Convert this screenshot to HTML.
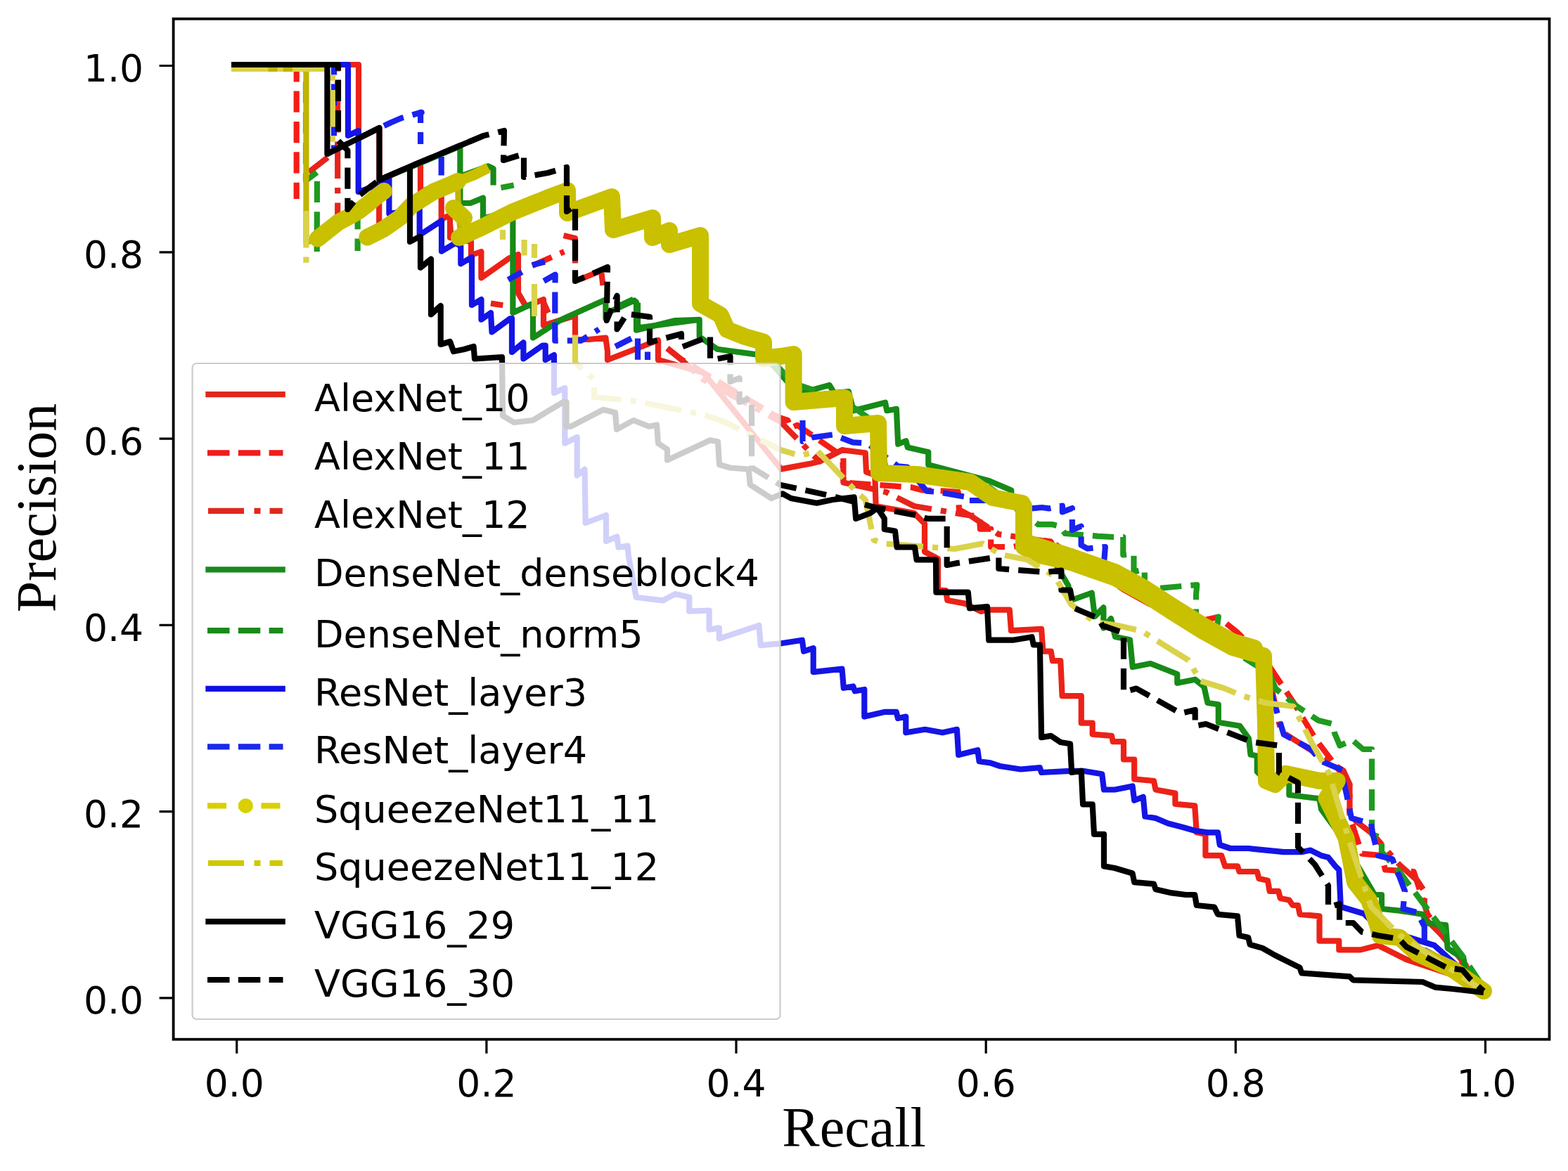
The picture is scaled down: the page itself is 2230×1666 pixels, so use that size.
<!DOCTYPE html><html><head><meta charset="utf-8"><style>html,body{margin:0;padding:0;background:#fff;overflow:hidden}svg{display:block}</style></head><body><svg xmlns="http://www.w3.org/2000/svg" width="2230" height="1666" viewBox="0 0 2230 1666"><rect width="2230" height="1666" fill="#fff"/><defs><clipPath id="ax"><rect x="246.6" y="26.8" width="1956.9" height="1451.9"/></clipPath></defs><g clip-path="url(#ax)" fill="none" stroke-linejoin="round"><path d="M329.0 92.0 L510.0 92.0 L510.0 197.0 L539.5 182.0 L539.5 256.0 L598.0 231.0 L598.0 272.5 L627.7 262.0 L627.7 312.0 L640.0 306.0 L640.0 338.0 L670.0 344.0 L670.0 363.0 L684.4 358.0 L684.4 395.3 L724.4 367.2 L737.0 362.0 L737.0 417.0 L748.0 436.0" stroke="#ec2218" stroke-width="8.2" stroke-linecap="butt"/><path d="M748.0 436.0 L773.0 426.0 L773.0 463.0 L818.0 449.0 L818.0 483.0 L837.0 483.0 L861.4 480.6 L864.0 499.7 L864.0 512.0 L936.0 484.0 L936.0 512.0 L1000.0 530.0 L1110.9 667.4 L1154.4 659.2 L1165.3 656.5 L1198.0 640.2 L1230.7 644.3 L1232.0 671.5 L1244.3 675.6 L1245.6 720.0 L1300.0 730.0 L1315.0 745.0 L1315.0 785.0 L1334.0 795.0 L1334.0 839.5 L1345.0 840.0 L1347.3 854.0 L1372.2 858.6 L1394.9 869.9 L1404.0 867.6 L1435.8 867.6 L1438.0 897.1 L1481.1 894.9 L1483.4 926.6 L1494.7 926.6 L1497.0 940.2 L1508.3 940.2 L1510.6 990.1 L1537.8 990.1 L1537.8 1028.7 L1553.7 1028.7 L1553.7 1044.6 L1581.0 1046.9 L1582.8 1055.2 L1598.0 1055.2 L1598.0 1080.5 L1613.2 1080.5 L1613.2 1108.4 L1641.0 1111.0 L1643.5 1123.5 L1671.4 1128.6 L1671.4 1143.8 L1699.2 1146.3 L1701.8 1184.3 L1714.4 1186.8 L1714.4 1217.2 L1737.2 1217.2 L1742.3 1232.4 L1760.0 1232.4 L1762.5 1240.0 L1787.8 1240.0 L1790.4 1250.1 L1803.0 1252.7 L1805.6 1267.8 L1818.2 1267.8 L1820.8 1278.0 L1833.4 1280.5 L1838.5 1288.0 L1846.0 1288.0 L1848.6 1300.8 L1876.5 1303.3 L1876.5 1338.7 L1904.3 1338.7 L1904.3 1351.4 L1934.7 1351.4 L1960.0 1345.0 L2000.0 1365.0 L2060.0 1385.0 L2110.0 1408.0" stroke="#ec2218" stroke-width="8.2" stroke-linecap="butt"/><path d="M329.0 92.0 L421.7 92.0 L421.7 283.0" stroke="#f51c16" stroke-width="8.2" stroke-linecap="butt" stroke-dasharray="30.3 13.1"/><path d="M757.0 378.0 L802.4 358.0" stroke="#f51c16" stroke-width="8.2" stroke-linecap="butt" stroke-dasharray="30.3 13.1"/><path d="M949.0 495.5 L968.0 510.7 L1000.0 530.0 L1100.0 590.0 L1110.9 595.0 L1120.4 598.0 L1124.5 609.0 L1134.0 604.8 L1199.4 650.0 L1199.4 686.5 L1296.0 693.3 L1312.3 697.4 L1343.6 698.7 L1362.7 700.0 L1364.0 725.0 L1380.0 733.5 L1392.7 733.5 L1394.0 752.6 L1409.2 752.6 L1409.2 778.0 L1441.0 778.0 L1481.7 769.0 L1494.4 770.4 L1510.0 800.0 L1560.0 818.0 L1600.0 838.0 L1631.0 850.0 L1687.0 888.0 L1732.8 877.8 L1760.0 900.0 L1800.0 940.0 L1840.0 1000.0 L1870.0 1050.0 L1919.5 1116.0 L1919.5 1161.5 L1937.0 1214.7 L1965.0 1217.2 L1970.0 1237.5 L2010.6 1240.0 L2030.0 1300.0 L2050.0 1330.0 L2110.0 1405.0" stroke="#f51c16" stroke-width="8.2" stroke-linecap="butt" stroke-dasharray="30.3 13.1"/><path d="M329.0 92.0 L480.2 92.0 L480.2 306.0" stroke="#e8231a" stroke-width="8.2" stroke-linecap="butt" stroke-dasharray="52.5 13.1 8.2 13.1"/><path d="M539.2 273.0 L539.2 318.0" stroke="#e8231a" stroke-width="8.2" stroke-linecap="butt" stroke-dasharray="52.5 13.1 8.2 13.1"/><path d="M640.0 318.0 L641.7 338.5" stroke="#e8231a" stroke-width="8.2" stroke-linecap="butt" stroke-dasharray="52.5 13.1 8.2 13.1"/><path d="M698.0 431.6 L715.3 434.3" stroke="#e8231a" stroke-width="8.2" stroke-linecap="butt" stroke-dasharray="52.5 13.1 8.2 13.1"/><path d="M737.0 417.0 L748.0 436.0" stroke="#e8231a" stroke-width="8.2" stroke-linecap="butt" stroke-dasharray="52.5 13.1 8.2 13.1"/><path d="M771.6 427.0 L779.7 445.0" stroke="#e8231a" stroke-width="8.2" stroke-linecap="butt" stroke-dasharray="52.5 13.1 8.2 13.1"/><path d="M801.5 335.0 L818.0 339.0 L818.0 400.3 L855.0 385.0 L858.0 410.0" stroke="#e8231a" stroke-width="8.2" stroke-linecap="butt" stroke-dasharray="52.5 13.1 8.2 13.1"/><path d="M936.0 484.0 L936.0 512.0" stroke="#e8231a" stroke-width="8.2" stroke-linecap="butt" stroke-dasharray="52.5 13.1 8.2 13.1"/><path d="M439.0 245.0 L466.0 224.0" stroke="#e8231a" stroke-width="8.2" stroke-linecap="butt" stroke-dasharray="52.5 13.1 8.2 13.1"/><path d="M949.0 495.5 L968.0 510.7 L1000.0 540.0 L1110.0 600.0 L1165.3 656.5 L1198.0 640.2 L1199.4 686.5 L1260.0 700.0 L1300.0 720.0 L1380.0 733.5 L1420.0 760.0 L1481.7 769.0 L1494.4 770.4 L1540.0 800.0 L1600.0 840.0 L1687.0 888.0 L1760.0 905.0 L1800.0 940.0 L1821.7 1040.4 L1910.6 1096.4 L1919.5 1116.0 L1919.5 1161.5 L1952.4 1186.8 L1990.0 1230.0 L2015.7 1252.7 L2025.8 1268.0 L2025.8 1305.8 L2056.2 1336.2 L2068.9 1356.5 L2110.0 1405.0" stroke="#e8231a" stroke-width="8.2" stroke-linecap="butt" stroke-dasharray="52.5 13.1 8.2 13.1"/><path d="M539.5 256.0 L600.0 231.0 L654.4 208.0 L654.4 250.8 L694.4 236.3 L701.6 240.0 L701.6 263.5" stroke="#178a17" stroke-width="8.2" stroke-linecap="butt"/><path d="M729.4 305.0 L729.4 445.0 L755.0 433.0 L758.0 436.0 L758.0 480.6 L796.0 456.0 L807.0 450.7 L861.4 426.2 L861.4 453.0 L864.0 445.0 L902.0 427.5 L905.0 430.0 L905.0 469.7 L960.0 456.0 L994.7 454.8 L994.7 479.0 L1020.0 496.7 L1076.0 504.4 L1100.0 520.0 L1130.0 555.0 L1138.8 559.2 L1179.6 547.9 L1186.4 559.2 L1206.9 557.0 L1213.7 584.2 L1259.0 572.8 L1261.3 584.2 L1274.9 581.9 L1277.2 631.8 L1288.5 627.3 L1290.8 636.4 L1320.3 643.2 L1320.3 661.3 L1406.5 684.0 L1438.3 697.6 L1438.3 711.2 L1456.0 740.0 L1456.0 780.0 L1500.0 800.0 L1519.3 833.0 L1523.5 854.0 L1552.7 843.5 L1557.0 877.0 L1569.4 864.4 L1569.4 893.6 L1580.0 880.0 L1586.0 906.0 L1607.0 910.3 L1610.8 949.0 L1636.2 944.0 L1674.3 959.0 L1674.3 971.8 L1699.7 966.7 L1712.4 977.0 L1717.5 1000.0 L1732.8 1002.3 L1732.8 1027.7 L1763.3 1032.8 L1776.0 1050.6 L1778.5 1073.5 L1787.8 1075.4 L1787.8 1098.0 L1800.5 1111.0 L1833.4 1113.4 L1833.4 1131.0 L1876.5 1136.2 L1879.0 1151.4 L1900.0 1180.0 L1930.0 1230.0 L1955.0 1273.0 L1965.0 1273.0 L1965.0 1293.0 L1990.4 1295.7 L2023.3 1300.8 L2028.4 1313.4 L2056.2 1316.0 L2058.7 1349.0 L2081.5 1364.0 L2086.6 1389.4 L2110.0 1405.0" stroke="#178a17" stroke-width="8.2" stroke-linecap="butt"/><path d="M654.4 250.0 L654.4 289.0 L669.0 289.0 L687.0 281.6 L687.0 310.7 L727.0 300.0" stroke="#178a17" stroke-width="8.2" stroke-linecap="butt"/><path d="M876.5 437.0 L900.7 425.6" stroke="#178a17" stroke-width="8.2" stroke-linecap="butt"/><path d="M907.0 430.7 L907.0 461.0 L908.3 466.2 L994.7 454.8" stroke="#178a17" stroke-width="8.2" stroke-linecap="butt"/><path d="M329.0 92.0 L435.0 92.0 L435.0 257.0 L451.0 245.0 L450.7 358.0" stroke="#1f9a1f" stroke-width="8.2" stroke-linecap="butt" stroke-dasharray="30.3 13.1"/><path d="M508.6 296.0 L508.6 357.0" stroke="#1f9a1f" stroke-width="8.2" stroke-linecap="butt" stroke-dasharray="30.3 13.1"/><path d="M523.8 340.0 L531.4 335.0" stroke="#1f9a1f" stroke-width="8.2" stroke-linecap="butt" stroke-dasharray="30.3 13.1"/><path d="M712.5 267.0 L730.7 263.5" stroke="#1f9a1f" stroke-width="8.2" stroke-linecap="butt" stroke-dasharray="30.3 13.1"/><path d="M1100.0 515.0 L1128.0 545.0 L1200.0 570.0 L1250.0 605.0 L1260.0 670.0 L1400.0 688.0 L1456.0 730.0 L1476.6 746.2 L1497.0 746.2 L1507.0 748.8 L1514.7 759.0 L1561.7 762.8 L1583.3 764.0 L1597.3 764.0 L1597.3 789.4 L1612.5 788.0 L1612.5 813.6 L1627.8 809.8 L1627.8 835.2 L1639.2 837.7 L1702.3 832.0 L1701.0 847.0 L1701.0 875.0 L1707.4 885.5 L1732.8 877.8 L1730.0 898.0 L1730.0 916.0 L1760.0 930.0 L1806.0 959.0 L1814.0 979.5 L1829.0 992.0 L1844.5 1005.0 L1875.0 1025.0 L1895.4 1030.0 L1898.0 1043.0 L1905.5 1060.8 L1923.3 1053.0 L1938.6 1066.0 L1951.0 1066.0 L1951.0 1186.8 L1965.0 1192.0 L1965.0 1212.0 L1990.0 1240.0 L2020.0 1280.0 L2050.0 1320.0 L2080.0 1360.0 L2110.0 1405.0" stroke="#1f9a1f" stroke-width="8.2" stroke-linecap="butt" stroke-dasharray="30.3 13.1"/><path d="M329.0 92.0 L495.0 92.0 L495.0 193.0 L509.7 186.0 L509.7 273.0 L540.0 262.0 L553.4 253.0 L553.4 304.0 L580.0 300.0 L596.7 296.0 L596.7 334.4 L628.0 314.0 L628.0 357.6 L648.5 345.3 L655.3 350.8 L655.3 375.3 L671.0 366.0 L671.0 434.0 L684.5 426.0 L684.5 454.7 L698.0 445.0 L699.5 472.4 L725.3 453.4 L728.0 453.0 L728.0 501.0 L744.4 487.4 L744.4 510.5 L771.6 491.5 L775.7 491.5 L775.7 512.0 L788.0 505.0 L788.0 559.0 L803.3 552.0 L803.3 630.7 L820.7 622.0 L820.7 676.4 L831.6 667.7 L832.7 744.0 L862.0 733.0 L862.0 770.0 L877.4 763.5 L879.5 778.7 L892.6 776.6 L894.0 791.8 L904.8 849.7 L942.6 854.4 L960.3 845.0 L980.3 849.7 L980.3 869.7 L1008.6 868.5 L1008.6 895.7 L1022.8 893.3 L1022.8 908.6 L1079.4 889.8 L1081.8 918.1 L1111.3 915.3 L1140.8 910.7 L1143.1 926.6 L1156.7 922.1 L1156.7 956.1 L1197.5 951.6 L1199.8 978.8 L1213.4 976.5 L1215.7 983.3 L1229.3 981.0 L1229.3 1019.6 L1258.8 1012.8 L1274.7 1012.8 L1277.0 1021.9 L1288.3 1019.6 L1288.3 1042.3 L1315.5 1037.8 L1340.5 1042.3 L1360.9 1037.8 L1363.2 1074.1 L1390.4 1067.3 L1392.6 1083.2 L1408.5 1085.4 L1422.2 1090.0 L1451.6 1094.5 L1478.9 1092.2 L1481.1 1099.0 L1522.0 1096.8 L1540.1 1096.8 L1567.3 1101.3 L1570.0 1123.5 L1585.3 1123.5 L1610.6 1118.5 L1613.2 1138.7 L1625.8 1133.7 L1628.4 1161.5 L1643.5 1164.0 L1661.3 1171.6 L1681.5 1176.7 L1699.2 1181.8 L1717.0 1184.3 L1732.0 1184.3 L1734.7 1202.0 L1749.9 1207.0 L1775.2 1207.0 L1800.5 1209.6 L1825.8 1212.2 L1851.1 1212.2 L1863.8 1209.6 L1879.0 1217.2 L1889.0 1219.7 L1899.2 1232.4 L1904.3 1237.5 L1906.8 1290.0 L1940.0 1300.0 L1960.0 1320.0 L2040.0 1345.0 L2110.0 1408.0" stroke="#1414e6" stroke-width="8.2" stroke-linecap="butt"/><path d="M329.0 92.0 L475.0 92.0 L475.0 214.0 L539.5 182.0 L556.7 174.0 L570.7 168.0 L599.6 159.8 L598.1 159.8 L598.1 205.0" stroke="#1a22f0" stroke-width="8.2" stroke-linecap="butt" stroke-dasharray="30.3 13.1"/><path d="M627.7 223.0 L627.7 249.5" stroke="#1a22f0" stroke-width="8.2" stroke-linecap="butt" stroke-dasharray="30.3 13.1"/><path d="M722.6 398.0 L742.5 387.0" stroke="#1a22f0" stroke-width="8.2" stroke-linecap="butt" stroke-dasharray="30.3 13.1"/><path d="M757.0 377.0 L775.0 372.6" stroke="#1a22f0" stroke-width="8.2" stroke-linecap="butt" stroke-dasharray="30.3 13.1"/><path d="M773.4 399.8 L789.7 390.7 L789.3 415.0 L789.3 484.7 L826.0 484.7 L852.0 468.4" stroke="#1a22f0" stroke-width="8.2" stroke-linecap="butt" stroke-dasharray="30.3 13.1"/><path d="M875.2 493.0 L898.0 481.5" stroke="#1a22f0" stroke-width="8.2" stroke-linecap="butt" stroke-dasharray="30.3 13.1"/><path d="M907.0 481.5 L907.0 512.0" stroke="#1a22f0" stroke-width="8.2" stroke-linecap="butt" stroke-dasharray="30.3 13.1"/><path d="M921.0 500.5 L921.0 512.0" stroke="#1a22f0" stroke-width="8.2" stroke-linecap="butt" stroke-dasharray="30.3 13.1"/><path d="M1141.5 598.0 L1141.5 628.0 L1154.4 622.5 L1184.4 618.4 L1213.0 629.3 L1233.4 630.7 L1277.0 663.3 L1290.6 664.7 L1317.8 698.7 L1334.0 700.0 L1374.0 707.0 L1374.0 712.0 L1420.0 712.0 L1466.4 723.4 L1481.7 722.0 L1491.8 723.4 L1510.9 719.6 L1510.9 728.4 L1524.9 723.0 L1524.9 753.9 L1537.6 748.8 L1537.6 775.5 L1546.5 780.5 L1571.9 778.0 L1569.3 810.0 L1585.8 818.7 L1599.8 817.4 L1631.0 850.0 L1687.0 888.0 L1730.0 905.0 L1780.0 930.0 L1800.0 960.0 L1825.8 1045.0 L1863.8 1065.3 L1879.0 1083.0 L1909.4 1095.7 L1909.4 1105.8 L1915.0 1130.0 L1922.0 1164.0 L1950.0 1171.6 L1952.4 1186.8 L1960.0 1217.2 L1980.3 1222.3 L1988.0 1242.5 L1990.4 1247.6 L1998.0 1267.8 L1995.4 1293.0 L2015.7 1298.2 L2025.8 1318.5 L2025.8 1351.4 L2060.0 1370.0 L2110.0 1405.0" stroke="#1a22f0" stroke-width="8.2" stroke-linecap="butt" stroke-dasharray="30.3 13.1"/><path d="M329.0 98.0 L435.4 98.0 L435.4 345.0 L451.8 339.5" stroke="#c0b400" stroke-width="8.2" stroke-linecap="butt"/><path d="M651.0 258.0 L652.0 300.0 L655.0 332.0" stroke="#c0b400" stroke-width="8.2" stroke-linecap="butt"/><path d="M651.0 258.0 L675.0 248.5 L694.6 238.6" stroke="#c9c000" stroke-width="15" stroke-linecap="butt"/><path d="M451.8 339.5 L481.0 316.4 L498.8 307.0 L510.5 300.0 L522.3 291.0 L534.0 281.0 L546.0 272.0" stroke="#c9c000" stroke-width="24" stroke-linecap="round"/><path d="M522.3 337.5 L545.8 325.8 L569.3 309.3 L584.6 292.9 L616.3 272.9 L639.8 263.0 L651.0 258.0" stroke="#c9c000" stroke-width="24" stroke-linecap="round"/><path d="M645.0 296.0 L660.0 310.0" stroke="#c9c000" stroke-width="24" stroke-linecap="round"/><path d="M653.0 338.0 L684.0 324.0 L728.0 302.0 L782.8 280.0 L799.0 274.0 L807.0 271.0 L807.0 303.0 L870.0 280.0 L872.0 327.0 L928.0 310.0 L928.0 338.0 L952.0 328.0 L952.0 348.0 L996.0 335.0 L996.0 432.0 L1025.0 448.5 L1034.0 468.8 L1059.5 479.0 L1086.0 486.6 L1086.0 510.0 L1110.0 507.0 L1128.6 504.0 L1128.6 572.0 L1201.0 566.0 L1201.0 606.0 L1249.0 602.0 L1250.0 673.0 L1304.0 675.0 L1380.0 686.0 L1412.0 708.0 L1453.7 716.0 L1456.0 720.0 L1456.0 778.0 L1480.0 790.0 L1523.5 800.0 L1586.0 822.0 L1628.0 845.0 L1669.6 872.0 L1711.4 898.0 L1753.0 921.0 L1784.5 930.0 L1797.0 933.0 L1800.0 1030.0 L1801.0 1111.0 L1813.2 1116.0 L1828.4 1100.8 L1876.5 1111.0 L1901.8 1111.0 L1886.6 1136.0 L1914.4 1192.0 L1919.5 1217.0 L1927.0 1255.0 L1947.0 1280.5 L1960.0 1318.5 L1962.5 1331.0 L1990.4 1333.7 L2015.7 1356.5 L2066.3 1379.4 L2110.0 1410.0" stroke="#c9c000" stroke-width="24" stroke-linecap="round"/><path d="M1460.0 772.0 L1523.5 792.0 L1586.0 814.0 L1628.0 837.0 L1669.6 864.0 L1711.0 890.0 L1753.0 913.0 L1784.0 922.0" stroke="#c9c000" stroke-width="24" stroke-linecap="round"/><path d="M329.0 98.0 L472.9 98.0 L472.9 212.0" stroke="#dad24a" stroke-width="8.2" stroke-linecap="butt" stroke-dasharray="52.5 13.1 8.2 13.1"/><path d="M435.4 300.0 L435.4 387.0" stroke="#dad24a" stroke-width="8.2" stroke-linecap="butt" stroke-dasharray="52.5 13.1 8.2 13.1"/><path d="M715.0 327.0 L715.0 341.0" stroke="#dad24a" stroke-width="8.2" stroke-linecap="butt" stroke-dasharray="52.5 13.1 8.2 13.1"/><path d="M745.6 341.0 L745.6 363.5" stroke="#dad24a" stroke-width="8.2" stroke-linecap="butt" stroke-dasharray="52.5 13.1 8.2 13.1"/><path d="M760.0 347.0 L760.0 367.0" stroke="#dad24a" stroke-width="8.2" stroke-linecap="butt" stroke-dasharray="52.5 13.1 8.2 13.1"/><path d="M760.0 404.0 L760.0 450.0" stroke="#dad24a" stroke-width="8.2" stroke-linecap="butt" stroke-dasharray="52.5 13.1 8.2 13.1"/><path d="M818.0 476.5 L818.0 516.0 L845.0 540.0 L845.0 565.0 L900.0 570.0 L1000.0 590.0 L1030.0 600.0 L1110.0 640.0 L1138.0 648.4 L1162.6 641.6 L1219.8 701.4 L1230.7 711.0 L1242.6 768.3 L1257.8 773.4 L1357.0 781.0 L1397.6 773.4 L1423.0 788.7 L1461.0 796.3 L1500.0 820.0 L1523.5 860.0 L1557.0 885.0 L1590.0 890.0 L1623.7 897.8 L1657.0 918.7 L1690.5 939.5 L1707.0 968.8 L1740.6 979.0 L1765.7 989.6 L1800.0 1000.0 L1839.5 1005.0 L1865.0 1055.7 L1890.0 1100.0 L1920.0 1200.0 L1950.0 1290.0 L1990.0 1330.0 L2110.0 1410.0" stroke="#dad24a" stroke-width="8.2" stroke-linecap="butt" stroke-dasharray="52.5 13.1 8.2 13.1"/><path d="M329.0 92.0 L465.4 92.0 L465.4 219.0 L539.5 182.0 L539.5 256.0 L583.0 237.0 L583.0 344.0 L596.0 337.0 L598.0 337.0 L598.0 380.7 L613.0 368.5 L613.0 447.4 L626.7 435.0 L626.7 490.0 L640.0 486.0 L645.0 500.0 L660.0 497.0 L673.6 493.0 L675.0 510.5 L714.0 508.0 L715.0 591.5 L731.0 601.0 L757.6 598.0 L801.0 572.0 L805.5 572.0 L805.5 606.7 L812.0 606.7 L857.8 582.8 L875.0 587.0 L877.0 611.0 L901.0 598.0 L923.0 606.7 L934.0 604.5 L936.0 630.7 L949.0 639.4 L949.0 654.6 L1010.0 626.3 L1021.0 628.5 L1023.0 661.0 L1038.5 665.5 L1064.7 667.7 L1066.8 689.5 L1097.0 709.0 L1113.0 702.3 L1125.0 709.0 L1161.5 715.7 L1184.0 711.0 L1214.7 707.4 L1217.2 737.8 L1237.5 730.2 L1247.7 722.6 L1257.8 737.8 L1257.8 753.0 L1273.0 755.6 L1275.6 778.5 L1301.0 778.5 L1303.6 796.3 L1331.0 796.3 L1331.4 842.7 L1376.8 842.7 L1379.0 865.4 L1404.0 863.1 L1406.3 910.7 L1440.3 910.7 L1467.5 906.2 L1469.8 917.5 L1478.9 917.5 L1481.1 1049.1 L1494.7 1046.9 L1508.3 1056.0 L1522.0 1058.2 L1524.2 1099.0 L1537.8 1096.8 L1540.1 1144.4 L1553.7 1144.4 L1556.0 1186.8 L1570.0 1186.8 L1570.0 1232.4 L1585.3 1235.0 L1610.6 1242.5 L1613.2 1255.2 L1641.0 1257.7 L1643.5 1265.3 L1666.3 1270.4 L1686.6 1273.0 L1699.2 1273.0 L1701.8 1288.0 L1727.0 1290.6 L1732.0 1300.8 L1760.0 1303.3 L1762.5 1331.0 L1775.2 1333.7 L1777.7 1343.8 L1795.4 1348.9 L1813.2 1359.0 L1828.4 1366.6 L1848.6 1376.7 L1851.1 1384.3 L1919.5 1389.4 L1924.6 1394.4 L2023.3 1397.0 L2041.0 1404.6 L2066.3 1407.0 L2110.0 1412.0" stroke="#000000" stroke-width="8.2" stroke-linecap="butt"/><path d="M583.0 237.0 L688.0 193.0" stroke="#000000" stroke-width="8.2" stroke-linecap="butt"/><path d="M329.0 92.0 L481.0 92.0 L481.0 200.0 L494.4 214.0 L494.4 298.0 L508.5 280.0 L528.6 264.0 L539.5 256.0 L583.0 237.0 L688.0 193.0 L717.0 186.0 L716.0 228.0 L745.0 219.0 L745.0 252.0 L779.0 246.0 L806.0 238.0 L806.0 301.0 L818.0 292.0 L818.0 400.0 L864.0 380.0 L862.8 456.0 L877.6 420.7 L877.6 468.4 L891.4 446.6 L924.0 450.7 L924.0 487.0 L969.0 475.0 L969.0 494.0 L995.0 484.0 L1010.0 478.0 L1010.0 512.0 L1020.0 510.7 L1038.5 507.0 L1038.5 517.0 L1038.5 543.0 L1051.6 538.0 L1051.6 572.0 L1069.0 566.0 L1069.0 665.0 L1110.0 690.0 L1180.0 705.0 L1247.7 722.6 L1301.0 732.8 L1318.8 737.8 L1346.7 737.8 L1346.7 804.0 L1359.5 801.4 L1410.3 793.7 L1420.4 793.0 L1420.4 809.0 L1486.5 814.0 L1509.4 811.5 L1509.4 839.5 L1522.0 839.5 L1527.0 865.0 L1562.7 880.0 L1567.8 890.0 L1598.0 900.4 L1598.0 984.6 L1616.0 979.5 L1679.4 1015.0 L1699.7 1010.0 L1699.7 1032.8 L1715.0 1030.0 L1781.0 1055.7 L1819.0 1060.8 L1819.0 1099.0 L1846.0 1113.4 L1846.0 1205.0 L1870.0 1230.0 L1889.0 1260.0 L1889.0 1291.0 L1905.0 1286.0 L1905.0 1313.0 L1924.6 1313.0 L1937.0 1326.0 L1960.0 1331.0 L1990.0 1336.0 L2000.0 1347.0 L2056.0 1376.0 L2080.0 1380.0 L2090.0 1392.0 L2110.0 1410.0" stroke="#000000" stroke-width="8.2" stroke-linecap="butt" stroke-dasharray="30.3 13.1"/></g><path d="M336.7 1478.7V1498.7M226.6 1419.9H246.6M691.9 1478.7V1498.7M226.6 1154.6H246.6M1047.0 1478.7V1498.7M226.6 889.3H246.6M1402.2 1478.7V1498.7M226.6 624.1H246.6M1757.3 1478.7V1498.7M226.6 358.8H246.6M2112.5 1478.7V1498.7M226.6 93.5H246.6" stroke="#000" stroke-width="3.2" fill="none"/><rect x="246.6" y="26.8" width="1956.9" height="1451.9" fill="none" stroke="#000" stroke-width="3.8"/><g font-family="DejaVu Sans, sans-serif" font-size="53.5" fill="#000"><text x="333.2" y="1560" text-anchor="middle">0.0</text><text x="204" y="1442.4" text-anchor="end">0.0</text><text x="691.9" y="1560" text-anchor="middle">0.2</text><text x="204" y="1177.1" text-anchor="end">0.2</text><text x="1047.0" y="1560" text-anchor="middle">0.4</text><text x="204" y="911.8" text-anchor="end">0.4</text><text x="1402.2" y="1560" text-anchor="middle">0.6</text><text x="204" y="646.6" text-anchor="end">0.6</text><text x="1757.3" y="1560" text-anchor="middle">0.8</text><text x="204" y="381.3" text-anchor="end">0.8</text><text x="2114.0" y="1560" text-anchor="middle">1.0</text><text x="204" y="116.0" text-anchor="end">1.0</text></g><text x="1214.5" y="1631.2" text-anchor="middle" font-family="Liberation Serif, serif" font-size="80">Recall</text><text transform="translate(79.4 722.5) rotate(-90)" text-anchor="middle" font-family="Liberation Serif, serif" font-size="80">Precision</text><rect x="273.6" y="517.0" width="835.9" height="933.0" rx="6" fill="#fff" fill-opacity="0.8" stroke="#cccccc" stroke-width="2.2"/><g font-family="DejaVu Sans, sans-serif" font-size="54" fill="#000"><path d="M292.3 561.2H405.8" stroke="#e0281c" stroke-width="8.2" fill="none"/><text x="447" y="585.0">AlexNet_10</text><path d="M295 644.3H402.5" stroke="#f01c1c" stroke-width="8.2" stroke-dasharray="31.5 12.3" fill="none"/><text x="447" y="668.1">AlexNet_11</text><path d="M296 726.9H401.8" stroke="#e0281c" stroke-width="8.2" stroke-dasharray="51 14.5 9 13" fill="none"/><text x="447" y="750.7">AlexNet_12</text><path d="M292.3 810.4H405.8" stroke="#1a8a1a" stroke-width="8.2" fill="none"/><text x="447" y="834.2">DenseNet_denseblock4</text><path d="M295 897.2H402.5" stroke="#1a8a1a" stroke-width="8.2" stroke-dasharray="31.5 12.3" fill="none"/><text x="447" y="921.0">DenseNet_norm5</text><path d="M292.3 979.8H405.8" stroke="#1010e0" stroke-width="8.2" fill="none"/><text x="447" y="1003.6">ResNet_layer3</text><path d="M295 1062.4H402.5" stroke="#1a2ae8" stroke-width="8.2" stroke-dasharray="31.5 12.3" fill="none"/><text x="447" y="1086.2">ResNet_layer4</text><path d="M295 1146.4H402.5" stroke="#d8d000" stroke-width="8.2" stroke-dasharray="27 17 15.5 17" fill="none"/><circle cx="349.4" cy="1146.4" r="10.5" fill="#d8d000"/><text x="447" y="1170.2">SqueezeNet11_11</text><path d="M296 1228.0H401.8" stroke="#d0c800" stroke-width="8.2" stroke-dasharray="51 14.5 9 13" fill="none"/><text x="447" y="1251.8">SqueezeNet11_12</text><path d="M292.3 1311.2H405.8" stroke="#000" stroke-width="8.2" fill="none"/><text x="447" y="1335.0">VGG16_29</text><path d="M295 1394.0H402.5" stroke="#000" stroke-width="8.2" stroke-dasharray="31.5 12.3" fill="none"/><text x="447" y="1417.8">VGG16_30</text></g></svg></body></html>
